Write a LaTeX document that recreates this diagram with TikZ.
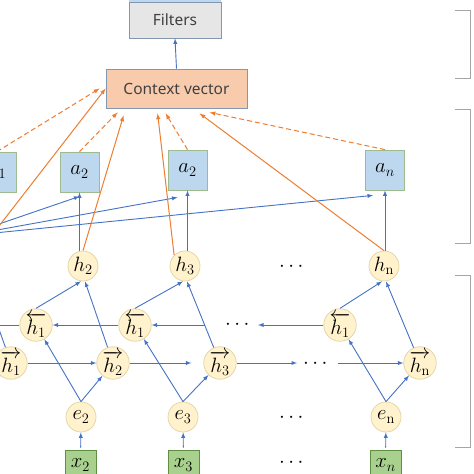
\documentclass[tikz,border=0pt]{standalone}
\usepackage{amsmath}
\usepackage{fontspec}
\newfontfamily\boxlabelfont{Noto Sans}
\usepackage{tikz}

\definecolor{lineblue}{HTML}{4472C4}
\definecolor{lineorange}{HTML}{ED7D31}
\definecolor{hfill}{HTML}{FFF2CC}
\definecolor{hborder}{HTML}{E3D7A8}
\definecolor{afill}{HTML}{BDD7EE}
\definecolor{aborder}{HTML}{9DBB8E}
\definecolor{xfill}{HTML}{A9D18E}
\definecolor{xborder}{HTML}{5E8F45}
\definecolor{filtfill}{HTML}{E7E6E6}
\definecolor{ctxfill}{HTML}{F8CBAD}
\definecolor{boxborder}{HTML}{8497B0}
\definecolor{bracketgray}{HTML}{A6A6A6}

\begin{document}
\begin{tikzpicture}[x=1pt,y=-1pt,
    mathsize/.style={font=\fontsize{20.74}{24}\selectfont},
    hnode/.style={circle,draw=hborder,fill=hfill,line width=0.8pt,minimum size=30pt,inner sep=0pt,mathsize},
    abox/.style={rectangle,draw=aborder,fill=afill,line width=0.8pt,minimum width=39pt,minimum height=40pt,inner sep=0pt,mathsize},
    xbox/.style={rectangle,draw=xborder,fill=xfill,line width=0.8pt,minimum width=31pt,minimum height=30pt,inner sep=0pt,mathsize},
    dotsnode/.style={inner sep=0pt,mathsize},
    textbox/.style={rectangle,draw=boxborder,line width=0.8pt,inner sep=0pt,text=black!75,font=\boxlabelfont\fontsize{15.5}{18}\selectfont},
    blueline/.style={-latex,draw=lineblue,line width=0.9pt},
    orangeline/.style={-latex,draw=lineorange,line width=1pt},
    orangedash/.style={-latex,draw=lineorange,line width=1pt,dash pattern=on 5pt off 3pt},
    bracket/.style={draw=bracketgray,line width=1pt}]
    \clip (0,0) rectangle (474,474);
    % top of the stack
    \fill[afill] (129,-20) rectangle (221,2);
    \node[textbox,fill=filtfill,minimum width=92pt,minimum height=36pt] (filters) at (175,20) {Filters};
    \node[textbox,fill=ctxfill,minimum width=141pt,minimum height=39pt] (ctx) at (176.5,88.5) {Context vector};
    \draw[blueline] (ctx.north) -- (filters.south);
    % attention weights
    \node[abox] (a1) at (-3,172) {$a_1$};
    \node[abox] (a2) at (79.5,172) {$a_2$};
    \node[abox] (a3) at (187.5,170) {$a_2$};
    \node[abox] (an) at (385,170) {$a_n$};
    % annotations
    \node[hnode] (h1) at (-20,266) {$h_1$};
    \node[hnode] (h2) at (83,266) {$h_2$};
    \node[hnode] (h3) at (185,266) {$h_3$};
    \node[dotsnode] (hdots) at (293,267) {$\cdots$};
    \node[hnode] (hn) at (384,266) {$h_{\mathrm{n}}$};
    % backward states
    \node[hnode] (b1) at (-66,325) {$\overleftarrow{h_1}$};
    \node[hnode] (b2) at (36,325) {$\overleftarrow{h_1}$};
    \node[hnode] (b3) at (135,325) {$\overleftarrow{h_1}$};
    \node[dotsnode] (bdots) at (239,325) {$\cdots$};
    \node[hnode] (bn) at (340,325) {$\overleftarrow{h_1}$};
    % forward states
    \node[hnode] (f1) at (11,363) {$\overrightarrow{h_1}$};
    \node[hnode] (f2) at (113,363) {$\overrightarrow{h_2}$};
    \node[hnode] (f3) at (220,363) {$\overrightarrow{h_3}$};
    \node[dotsnode] (fdots) at (317,364) {$\cdots$};
    \node[hnode] (fn) at (420,363) {$\overrightarrow{h_{\mathrm{n}}}$};
    % embeddings and inputs
    \node[hnode] (e1) at (-21,417) {$e_1$};
    \node[hnode] (e2) at (81,417) {$e_2$};
    \node[hnode] (e3) at (183,417) {$e_3$};
    \node[dotsnode] (edots) at (293,418) {$\cdots$};
    \node[hnode] (en) at (386,417) {$e_{\mathrm{n}}$};
    \node[xbox] (x1) at (-21,465) {$x_1$};
    \node[xbox] (x2) at (80.5,465) {$x_2$};
    \node[xbox] (x3) at (183.5,465) {$x_3$};
    \node[dotsnode] (xdots) at (293,463) {$\cdots$};
    \node[xbox] (xn) at (385.5,465) {$x_n$};
    \coordinate (fstop) at (297,363);
    \coordinate (fstart) at (338,363);
    \coordinate (bstop) at (258,325);
    \coordinate (bstart) at (205,325);
    \coordinate (hub) at (-36,236);

    \foreach \k in {1,2,3,n} {
        \draw[blueline,shorten <=2pt] (x\k) -- (e\k);
        \draw[blueline] (e\k.north) -- (b\k);
        \draw[blueline] (e\k.north) -- (f\k);
        \draw[blueline] (b\k.north) -- ([xshift=-2pt]h\k.south);
        \draw[blueline] (f\k) -- ([xshift=2pt]h\k.south);
        \draw[blueline] (a\k.south |- h\k.north) -- (a\k.south);
    }
    \draw[blueline] (f1) -- (f2);
    \draw[blueline,shorten >=12pt] (f2) -- (f3);
    \draw[blueline] (f3) -- (fstop);
    \draw[blueline] (fstart) -- (fn);
    \draw[blueline] (bn) -- (bstop);
    \draw[blueline] (bstart) -- (b3);
    \draw[blueline] (b3) -- (b2);
    \draw[blueline] (b2) -- (b1);
    \draw[blueline] (hub) -- ([yshift=-4pt]a2.south);
    \draw[blueline] (hub) -- ([xshift=-10pt,yshift=-7pt]a3.south);
    \draw[blueline] (hub) -- ([xshift=-12pt,yshift=-5pt]an.south);
    % to the context vector
    \draw[orangeline] (h1.north) -- (ctx.west);
    \draw[orangedash] (a1.north) -- ([xshift=-6pt]ctx.west);
    \draw[orangedash] (a2.north) -- ([xshift=12pt,yshift=-4pt]ctx.south west);
    \draw[orangeline] (h2.north) -- ([xshift=18pt,yshift=-7pt]ctx.south west);
    \draw[orangeline] (h3.135) -- ([xshift=52pt,yshift=-5pt]ctx.south west);
    \draw[orangedash] (a3.north) -- ([xshift=60pt,yshift=-5pt]ctx.south west);
    \draw[orangeline] (hn.north) -- ([xshift=94pt,yshift=-5pt]ctx.south west);
    \draw[orangedash] (an.north) -- ([xshift=104pt,yshift=-4pt]ctx.south west);
    % brackets
    \draw[bracket] (455,10) -- (470,10) -- (470,78) -- (455,78);
    \draw[bracket] (455,109) -- (470,109) -- (470,243) -- (455,243);
    \draw[bracket] (455,275) -- (470,275) -- (470,447) -- (455,447);
\end{tikzpicture}
\end{document}
